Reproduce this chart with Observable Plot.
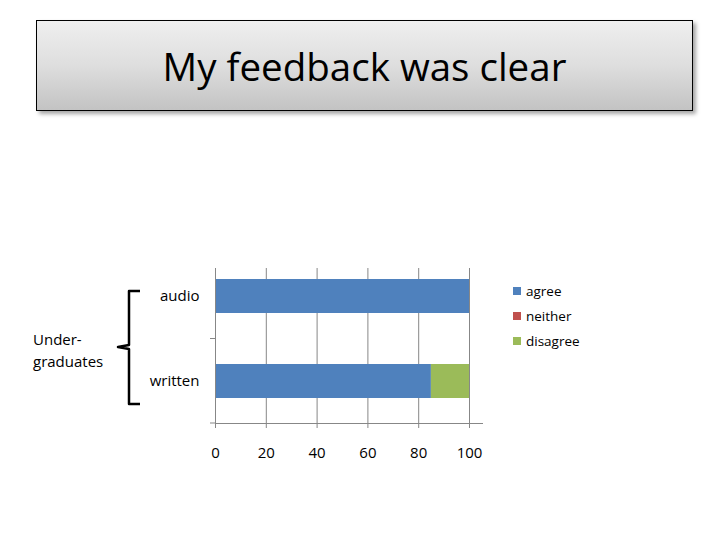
<!DOCTYPE html>
<html>
<head>
<meta charset="utf-8">
<script src="https://cdn.jsdelivr.net/npm/d3@7"></script>
<script src="https://cdn.jsdelivr.net/npm/@observablehq/plot@0.6"></script>
<style>
  html, body { margin: 0; padding: 0; background: #fff; }
  body { width: 728px; height: 546px; position: relative; overflow: hidden; font-family: "Open Sans", sans-serif; }
  #titlebox {
    position: absolute; left: 36px; top: 20px; width: 655px; height: 89px;
    border: 1.6px solid #000;
    background: linear-gradient(to bottom, #efefef 0%, #dedede 50%, #c3c3c3 100%);
    box-shadow: 3px 3px 4px rgba(0,0,0,0.35);
  }
  #title {
    position: absolute; left: 0; right: 0; top: 19px; text-align: center;
    font-size: 38.5px; color: #000; line-height: 52px;
  }
  #chart { position: absolute; left: 0; top: 0; }
  #legend { position: absolute; left: 513px; top: 278px; font-size: 13.5px; color: #000; }
  .lg { height: 25px; display: flex; align-items: center; white-space: nowrap; }
  .sw { width: 8px; height: 8px; margin-right: 5px; }
  #group { position: absolute; left: 33px; top: 328px; font-size: 15px; line-height: 22px; color: #000; }
  #brace { position: absolute; left: 0; top: 0; }
</style>
</head>
<body>
<div id="titlebox"><div id="title"></div></div>
<div id="chart"></div>
<div id="legend"></div>
<div id="group">Under-<br>graduates</div>
<svg id="brace" width="728" height="546">
  <path d="M140,291 L129,291 L129,345 L118,347 L129,349 L129,404 L140,404" fill="none" stroke="#000" stroke-width="2.5" stroke-linejoin="round"/>
</svg>
<script>
const titleText = "My feedback was clear";
const groups = ["audio", "written"];
const series = ["agree", "neither", "disagree"];
const colors = ["#4f81bd", "#c0504d", "#9bbb59"];
const agreeValues = [100, 85];
const neitherValues = [0, 0];
const disagreeValues = [0, 15];
const xTicks = [0, 20, 40, 60, 80, 100];

document.getElementById("title").textContent = titleText;

const valuesBySeries = {agree: agreeValues, neither: neitherValues, disagree: disagreeValues};
const data = [];
groups.forEach((g, i) => {
  series.forEach(s => data.push({group: g, series: s, value: valuesBySeries[s][i]}));
});

const gridColor = "#878787";

function categoryTicks(index, scales, values, dimensions) {
  const y = scales.y;
  const bw = typeof y.bandwidth === "function" ? y.bandwidth() : (y.bandwidth || 0);
  const ns = "http://www.w3.org/2000/svg";
  const gEl = document.createElementNS(ns, "g");
  const mids = [];
  for (let i = 0; i < groups.length - 1; i++) {
    mids.push((y(groups[i]) + bw + y(groups[i + 1])) / 2);
  }
  mids.push(dimensions.height - dimensions.marginBottom);
  const x0 = dimensions.marginLeft;
  for (const m of mids) {
    const l = document.createElementNS(ns, "line");
    l.setAttribute("x1", x0 - 5); l.setAttribute("x2", x0);
    l.setAttribute("y1", m); l.setAttribute("y2", m);
    l.setAttribute("stroke", gridColor); l.setAttribute("stroke-width", 1);
    gEl.appendChild(l);
  }
  return gEl;
}

const plot = Plot.plot({
  width: 728,
  height: 546,
  marginTop: 268,
  marginBottom: 123,
  marginLeft: 215,
  marginRight: 246,
  style: {fontFamily: "Open Sans, sans-serif", fontSize: "15px", color: "#000", background: "transparent"},
  x: {domain: [0, 100], range: [215, 469]},
  y: {domain: groups, range: [253.5, 423.5], paddingInner: 0.6, paddingOuter: 0.3},
  color: {domain: series, range: colors},
  marks: [
    Plot.ruleX(xTicks, {stroke: gridColor, strokeWidth: 1}),
    Plot.barX(data, Plot.stackX({x: "value", y: "group", fill: "series", inset: 0})),
    Plot.frame({anchor: "bottom", stroke: gridColor}),
    Plot.frame({anchor: "left", stroke: gridColor}),
    categoryTicks,
    Plot.axisX({ticks: xTicks, tickSize: 5, tickPadding: 19, stroke: gridColor, label: null, tickFormat: d => String(d), fontSize: 15, fill: "#000"}),
    Plot.axisY({tickSize: 0, tickPadding: 16, label: null, fontSize: 15, fill: "#000"})
  ]
});
document.getElementById("chart").appendChild(plot);

const legend = document.getElementById("legend");
series.forEach((s, i) => {
  const row = document.createElement("div");
  row.className = "lg";
  const sw = document.createElement("div");
  sw.className = "sw";
  sw.style.background = colors[i];
  const t = document.createElement("span");
  t.textContent = s;
  row.appendChild(sw); row.appendChild(t);
  legend.appendChild(row);
});
</script>
</body>
</html>
